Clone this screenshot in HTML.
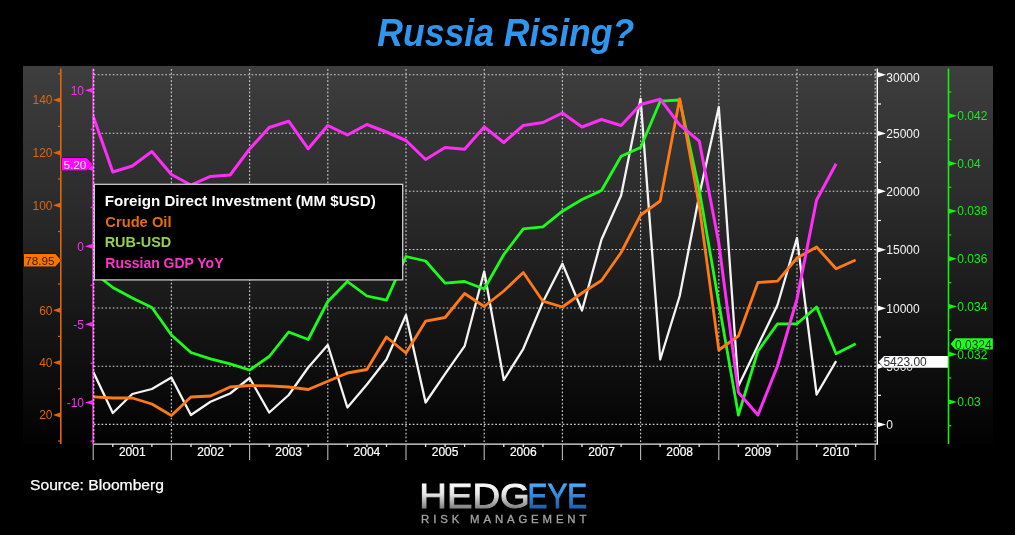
<!DOCTYPE html>
<html><head><meta charset="utf-8"><title>Russia Rising?</title>
<style>html,body{margin:0;padding:0;background:#000;}body{width:1015px;height:535px;overflow:hidden;}svg{display:block;}text{font-family:"Liberation Sans",sans-serif;}</style></head><body>
<svg width="1015" height="535" viewBox="0 0 1015 535">
<defs><linearGradient id="bg" x1="0" y1="0" x2="0" y2="1"><stop offset="0" stop-color="#3e3e3e"/><stop offset="0.35" stop-color="#2c2c2c"/><stop offset="0.7" stop-color="#141414"/><stop offset="1" stop-color="#020202"/></linearGradient>
<linearGradient id="lg1" gradientUnits="userSpaceOnUse" x1="0" y1="482" x2="0" y2="509"><stop offset="0" stop-color="#ffffff"/><stop offset="0.45" stop-color="#e6e6e6"/><stop offset="1" stop-color="#7c7c7c"/></linearGradient>
<linearGradient id="lg2" gradientUnits="userSpaceOnUse" x1="0" y1="482" x2="0" y2="509"><stop offset="0" stop-color="#4fb0ff"/><stop offset="1" stop-color="#1b5fae"/></linearGradient></defs>
<rect x="0" y="0" width="1015" height="535" fill="#000"/>
<text x="377.3" y="45.8" font-size="38.4" font-weight="bold" font-style="italic" fill="#2f96f0" textLength="257" lengthAdjust="spacingAndGlyphs">Russia Rising?</text>
<rect x="23" y="66" width="970" height="378" fill="url(#bg)"/>
<g stroke="#cdcdcd" stroke-width="1.15" stroke-dasharray="1.7 2.05" fill="none">
<line x1="94" y1="74.7" x2="876" y2="74.7"/>
<line x1="94" y1="133.2" x2="876" y2="133.2"/>
<line x1="94" y1="191.2" x2="876" y2="191.2"/>
<line x1="94" y1="249.5" x2="876" y2="249.5"/>
<line x1="94" y1="308.0" x2="876" y2="308.0"/>
<line x1="94" y1="366.2" x2="876" y2="366.2"/>
<line x1="94" y1="424.3" x2="876" y2="424.3"/>
<line x1="171.4" y1="69" x2="171.4" y2="444"/>
<line x1="249.6" y1="69" x2="249.6" y2="444"/>
<line x1="327.8" y1="69" x2="327.8" y2="444"/>
<line x1="406.0" y1="69" x2="406.0" y2="444"/>
<line x1="484.2" y1="69" x2="484.2" y2="444"/>
<line x1="562.4" y1="69" x2="562.4" y2="444"/>
<line x1="640.6" y1="69" x2="640.6" y2="444"/>
<line x1="718.8" y1="69" x2="718.8" y2="444"/>
<line x1="797.0" y1="69" x2="797.0" y2="444"/>
<line x1="875.2" y1="69" x2="875.2" y2="444"/>
</g>
<line x1="877.3" y1="68.5" x2="877.3" y2="444" stroke="#ffffff" stroke-width="1.4"/>
<g stroke="#e8e8e8" stroke-width="1.3" fill="none"><line x1="93" y1="444.1" x2="878" y2="444.1"/>
<line x1="93.2" y1="444" x2="93.2" y2="460" stroke="#b8b8b8" stroke-width="1.1"/>
<line x1="171.4" y1="444" x2="171.4" y2="460" stroke="#b8b8b8" stroke-width="1.1"/>
<line x1="249.6" y1="444" x2="249.6" y2="460" stroke="#b8b8b8" stroke-width="1.1"/>
<line x1="327.8" y1="444" x2="327.8" y2="460" stroke="#b8b8b8" stroke-width="1.1"/>
<line x1="406.0" y1="444" x2="406.0" y2="460" stroke="#b8b8b8" stroke-width="1.1"/>
<line x1="484.2" y1="444" x2="484.2" y2="460" stroke="#b8b8b8" stroke-width="1.1"/>
<line x1="562.4" y1="444" x2="562.4" y2="460" stroke="#b8b8b8" stroke-width="1.1"/>
<line x1="640.6" y1="444" x2="640.6" y2="460" stroke="#b8b8b8" stroke-width="1.1"/>
<line x1="718.8" y1="444" x2="718.8" y2="460" stroke="#b8b8b8" stroke-width="1.1"/>
<line x1="797.0" y1="444" x2="797.0" y2="460" stroke="#b8b8b8" stroke-width="1.1"/>
<line x1="875.2" y1="444" x2="875.2" y2="460" stroke="#b8b8b8" stroke-width="1.1"/>
<line x1="112.8" y1="444" x2="112.8" y2="447"/>
<line x1="132.3" y1="444" x2="132.3" y2="447"/>
<line x1="151.9" y1="444" x2="151.9" y2="447"/>
<line x1="191.0" y1="444" x2="191.0" y2="447"/>
<line x1="210.5" y1="444" x2="210.5" y2="447"/>
<line x1="230.1" y1="444" x2="230.1" y2="447"/>
<line x1="269.2" y1="444" x2="269.2" y2="447"/>
<line x1="288.7" y1="444" x2="288.7" y2="447"/>
<line x1="308.2" y1="444" x2="308.2" y2="447"/>
<line x1="347.4" y1="444" x2="347.4" y2="447"/>
<line x1="366.9" y1="444" x2="366.9" y2="447"/>
<line x1="386.5" y1="444" x2="386.5" y2="447"/>
<line x1="425.6" y1="444" x2="425.6" y2="447"/>
<line x1="445.1" y1="444" x2="445.1" y2="447"/>
<line x1="464.6" y1="444" x2="464.6" y2="447"/>
<line x1="503.8" y1="444" x2="503.8" y2="447"/>
<line x1="523.3" y1="444" x2="523.3" y2="447"/>
<line x1="542.9" y1="444" x2="542.9" y2="447"/>
<line x1="582.0" y1="444" x2="582.0" y2="447"/>
<line x1="601.5" y1="444" x2="601.5" y2="447"/>
<line x1="621.1" y1="444" x2="621.1" y2="447"/>
<line x1="660.1" y1="444" x2="660.1" y2="447"/>
<line x1="679.7" y1="444" x2="679.7" y2="447"/>
<line x1="699.2" y1="444" x2="699.2" y2="447"/>
<line x1="738.4" y1="444" x2="738.4" y2="447"/>
<line x1="757.9" y1="444" x2="757.9" y2="447"/>
<line x1="777.5" y1="444" x2="777.5" y2="447"/>
<line x1="816.6" y1="444" x2="816.6" y2="447"/>
<line x1="836.1" y1="444" x2="836.1" y2="447"/>
<line x1="855.7" y1="444" x2="855.7" y2="447"/>
</g>
<g font-size="12" fill="#ffffff" stroke="#ffffff" stroke-width="0.2" text-anchor="middle">
<text x="132.3" y="456.4">2001</text>
<text x="210.5" y="456.4">2002</text>
<text x="288.7" y="456.4">2003</text>
<text x="366.9" y="456.4">2004</text>
<text x="445.1" y="456.4">2005</text>
<text x="523.3" y="456.4">2006</text>
<text x="601.5" y="456.4">2007</text>
<text x="679.7" y="456.4">2008</text>
<text x="757.9" y="456.4">2009</text>
<text x="836.1" y="456.4">2010</text>
</g>
<g fill="none" stroke-linejoin="round" stroke-linecap="butt">
<polyline stroke="#f4f4f4" stroke-width="2.3" points="93.2,371.8 112.8,413.0 132.3,394.0 151.9,389.0 171.4,377.5 190.9,415.0 210.5,401.8 230.1,393.5 249.6,378.0 269.2,412.5 288.7,395.0 308.2,367.5 327.8,345.0 347.4,407.5 366.9,384.5 386.4,359.5 406.0,315.0 425.6,402.5 445.1,373.8 464.6,346.2 484.2,271.5 503.8,380.0 523.3,348.8 542.9,302.0 562.4,263.8 582.0,310.5 601.5,239.5 621.1,195.5 640.6,98.8 660.2,359.5 679.7,296.0 699.3,195.0 718.8,107.0 738.4,386.0 757.9,345.5 777.5,305.0 797.0,238.0 816.6,394.5 836.1,361.2"/>
<polyline stroke="#1cfc1c" stroke-width="2.8" points="93.2,272.0 112.8,287.5 132.3,298.0 151.9,307.5 171.4,335.0 190.9,352.5 210.5,358.8 230.1,363.8 249.6,370.0 269.2,356.5 288.7,332.0 308.2,339.5 327.8,301.5 347.4,281.5 366.9,296.0 386.4,300.2 406.0,256.5 425.6,261.0 445.1,283.2 464.6,281.5 484.2,289.0 503.8,254.5 523.3,228.8 542.9,226.8 562.4,211.2 582.0,199.5 601.5,190.5 621.1,156.2 640.6,147.5 660.2,101.2 679.7,100.0 699.3,190.0 718.8,303.0 738.4,415.0 757.9,351.2 777.5,323.8 797.0,323.8 816.6,307.0 836.1,353.8 855.7,343.8"/>
<polyline stroke="#ff7a14" stroke-width="2.8" points="93.2,396.8 112.8,398.0 132.3,398.0 151.9,404.0 171.4,415.5 190.9,397.0 210.5,396.0 230.1,387.0 249.6,385.5 269.2,385.8 288.7,387.0 308.2,389.5 327.8,381.2 347.4,373.0 366.9,369.5 386.4,337.0 406.0,353.0 425.6,321.2 445.1,317.5 464.6,293.5 484.2,306.5 503.8,291.0 523.3,272.5 542.9,301.2 562.4,307.0 582.0,293.0 601.5,280.5 621.1,252.5 640.6,215.0 660.2,201.0 679.7,98.8 699.3,206.0 718.8,350.0 738.4,336.0 757.9,282.5 777.5,281.2 797.0,258.0 816.6,247.0 836.1,268.8 855.7,260.0"/>
<polyline stroke="#ff2ef7" stroke-width="3" points="93.2,116.2 112.8,172.0 132.3,166.0 151.9,151.5 171.4,174.5 190.9,185.0 210.5,176.4 230.1,175.0 249.6,149.0 269.2,127.5 288.7,121.2 308.2,148.8 327.8,125.5 347.4,135.0 366.9,124.5 386.4,132.0 406.0,140.5 425.6,159.5 445.1,147.5 464.6,149.2 484.2,127.0 503.8,142.5 523.3,125.5 542.9,122.5 562.4,113.0 582.0,127.0 601.5,119.5 621.1,125.5 640.6,104.5 660.2,99.2 679.7,124.8 699.3,141.2 718.8,243.0 738.4,392.5 757.9,415.0 777.5,366.0 797.0,298.8 816.6,200.0 836.1,163.8"/>
</g>
<g stroke="#dc660d" fill="#dc660d">
<line x1="60.8" y1="68.5" x2="60.8" y2="444" stroke-width="1.6"/>
<path d="M60.8 97.3 L53 100.0 L60.8 102.7 Z" stroke="none"/>
<path d="M60.8 150.0 L53 152.7 L60.8 155.4 Z" stroke="none"/>
<path d="M60.8 202.5 L53 205.2 L60.8 207.9 Z" stroke="none"/>
<path d="M60.8 307.5 L53 310.2 L60.8 312.9 Z" stroke="none"/>
<path d="M60.8 359.9 L53 362.6 L60.8 365.3 Z" stroke="none"/>
<path d="M60.8 412.3 L53 415.0 L60.8 417.7 Z" stroke="none"/>
<line x1="58" y1="73.8" x2="60.8" y2="73.8" stroke-width="1.2"/>
<line x1="58" y1="126.4" x2="60.8" y2="126.4" stroke-width="1.2"/>
<line x1="58" y1="179.0" x2="60.8" y2="179.0" stroke-width="1.2"/>
<line x1="58" y1="231.5" x2="60.8" y2="231.5" stroke-width="1.2"/>
<line x1="58" y1="284.0" x2="60.8" y2="284.0" stroke-width="1.2"/>
<line x1="58" y1="336.4" x2="60.8" y2="336.4" stroke-width="1.2"/>
<line x1="58" y1="388.8" x2="60.8" y2="388.8" stroke-width="1.2"/>
<line x1="58" y1="441.0" x2="60.8" y2="441.0" stroke-width="1.2"/>
</g>
<g font-size="12" fill="#dc660d" text-anchor="end">
<text x="52.5" y="104.3">140</text>
<text x="52.5" y="157.0">120</text>
<text x="52.5" y="209.5">100</text>
<text x="52.5" y="314.5">60</text>
<text x="52.5" y="366.9">40</text>
<text x="52.5" y="419.3">20</text>
</g>
<path d="M24 254 L55.5 254 L61 260.2 L55.5 266.5 L24 266.5 Z" fill="#f87500" stroke="#0c0c0c" stroke-width="0.8" paint-order="stroke"/>
<text x="25.3" y="264.8" font-size="11.7" fill="#3a1a00">78.95</text>
<line x1="93.0" y1="68.5" x2="93.0" y2="444" stroke="#ff2cf5" stroke-width="1.5"/>
<line x1="93.8" y1="69" x2="93.8" y2="444" stroke="#f4f4f4" stroke-width="1" stroke-dasharray="2 1.75"/>
<g fill="#ff2cf5">
<path d="M93.2 87.6 L85 90.3 L93.2 93.0 Z"/>
<path d="M93.2 243.5 L85 246.2 L93.2 248.9 Z"/>
<path d="M93.2 321.6 L85 324.3 L93.2 327.0 Z"/>
<path d="M93.2 399.7 L85 402.4 L93.2 405.1 Z"/>
</g>
<g stroke="#ff2cf5" stroke-width="1.2">
<line x1="90.5" y1="129.3" x2="93.2" y2="129.3"/>
<line x1="90.5" y1="207.3" x2="93.2" y2="207.3"/>
<line x1="90.5" y1="285.3" x2="93.2" y2="285.3"/>
<line x1="90.5" y1="363.3" x2="93.2" y2="363.3"/>
<line x1="90.5" y1="441.0" x2="93.2" y2="441.0"/>
</g>
<g font-size="12" fill="#ff2cf5" text-anchor="end">
<text x="84" y="94.6">10</text>
<text x="84" y="250.5">0</text>
<text x="84" y="328.6">-5</text>
<text x="84" y="406.7">-10</text>
</g>
<path d="M93 165.6 L85 168.3 L93 171 Z" fill="#ff2cf5"/>
<path d="M61.8 158 L86.6 158 L92.7 164.2 L86.6 170.4 L61.8 170.4 Z" fill="#ff08ff" stroke="#0c0c0c" stroke-width="0.8" paint-order="stroke"/>
<text x="63.4" y="169.3" font-size="11.8" fill="#ffe8ff">5.20</text>
<g fill="#ffffff">
<path d="M877.5 72.0 L886 74.7 L877.5 77.4 Z"/>
<path d="M877.5 130.7 L886 133.4 L877.5 136.1 Z"/>
<path d="M877.5 188.5 L886 191.2 L877.5 193.9 Z"/>
<path d="M877.5 247.1 L886 249.8 L877.5 252.5 Z"/>
<path d="M877.5 305.5 L886 308.2 L877.5 310.9 Z"/>
<path d="M877.5 363.6 L886 366.3 L877.5 369.0 Z"/>
<path d="M877.5 421.9 L886 424.6 L877.5 427.3 Z"/>
</g>
<g stroke="#ffffff" stroke-width="1.2">
<line x1="878" y1="104.0" x2="881" y2="104.0"/>
<line x1="878" y1="162.3" x2="881" y2="162.3"/>
<line x1="878" y1="220.5" x2="881" y2="220.5"/>
<line x1="878" y1="278.7" x2="881" y2="278.7"/>
<line x1="878" y1="337.0" x2="881" y2="337.0"/>
<line x1="878" y1="395.3" x2="881" y2="395.3"/>
</g>
<g font-size="12" fill="#f4f4f4">
<text x="886.3" y="81.9">30000</text>
<text x="886.3" y="137.7">25000</text>
<text x="886.3" y="195.5">20000</text>
<text x="886.3" y="254.1">15000</text>
<text x="886.3" y="312.5">10000</text>
<text x="886.3" y="370.6">5000</text>
<text x="886.3" y="428.9">0</text>
</g>
<path d="M878.6 361.8 L884 355.9 L948 355.9 L948 367.7 L884 367.7 Z" fill="#ffffff" stroke="#0c0c0c" stroke-width="0.8" paint-order="stroke"/>
<text x="883.4" y="366.4" font-size="12" fill="#30303a">5423.00</text>
<line x1="948.5" y1="68.5" x2="948.5" y2="444" stroke="#16ee16" stroke-width="1.6"/>
<g fill="#16ee16">
<path d="M948.3 113.1 L957 115.8 L948.3 118.5 Z"/>
<path d="M948.3 160.7 L957 163.4 L948.3 166.1 Z"/>
<path d="M948.3 208.4 L957 211.1 L948.3 213.8 Z"/>
<path d="M948.3 256.1 L957 258.8 L948.3 261.5 Z"/>
<path d="M948.3 303.8 L957 306.5 L948.3 309.2 Z"/>
<path d="M948.3 351.5 L957 354.2 L948.3 356.9 Z"/>
<path d="M948.3 399.2 L957 401.9 L948.3 404.6 Z"/>
</g>
<g stroke="#16ee16" stroke-width="1.2">
<line x1="948.3" y1="92.0" x2="951.3" y2="92.0"/>
<line x1="948.3" y1="139.6" x2="951.3" y2="139.6"/>
<line x1="948.3" y1="187.3" x2="951.3" y2="187.3"/>
<line x1="948.3" y1="235.0" x2="951.3" y2="235.0"/>
<line x1="948.3" y1="282.7" x2="951.3" y2="282.7"/>
<line x1="948.3" y1="330.4" x2="951.3" y2="330.4"/>
<line x1="948.3" y1="378.0" x2="951.3" y2="378.0"/>
<line x1="948.3" y1="425.7" x2="951.3" y2="425.7"/>
</g>
<g font-size="12" fill="#16ee16">
<text x="957.3" y="120.1">0.042</text>
<text x="957.3" y="167.7">0.04</text>
<text x="957.3" y="215.4">0.038</text>
<text x="957.3" y="263.1">0.036</text>
<text x="957.3" y="310.8">0.034</text>
<text x="957.3" y="358.5">0.032</text>
<text x="957.3" y="406.2">0.03</text>
</g>
<path d="M950.6 343.9 L955.4 338.2 L992.8 338.2 L992.8 349.6 L955.4 349.6 Z" fill="#1eff1e" stroke="#0c0c0c" stroke-width="0.8" paint-order="stroke"/>
<text x="955" y="348.5" font-size="12" fill="#0c3a0c">0.0324</text>
<rect x="94.3" y="184.3" width="308.4" height="95.6" fill="#000" stroke="#d8d8d8" stroke-width="1.2"/>
<g font-size="14.4" font-weight="bold">
<text x="104.7" y="205.9" fill="#ffffff" textLength="271" lengthAdjust="spacingAndGlyphs">Foreign Direct Investment (MM $USD)</text>
<text x="105.3" y="226.6" fill="#e46c0a" textLength="66.2" lengthAdjust="spacingAndGlyphs">Crude Oil</text>
<text x="104.7" y="246.9" fill="#92d050" textLength="66.5" lengthAdjust="spacingAndGlyphs">RUB-USD</text>
<text x="105.3" y="267.6" fill="#ff33cc" textLength="118.2" lengthAdjust="spacingAndGlyphs">Russian GDP YoY</text>
</g>
<text x="30" y="490" font-size="14.8" fill="#ffffff" stroke="#ffffff" stroke-width="0.25" textLength="134" lengthAdjust="spacingAndGlyphs">Source: Bloomberg</text>
<text x="419.3" y="508.3" font-size="35.6" fill="url(#lg1)" stroke="url(#lg1)" stroke-width="0.9" textLength="110.5" lengthAdjust="spacingAndGlyphs">HEDG</text>
<text x="527.6" y="508.3" font-size="35.6" fill="url(#lg2)" stroke="url(#lg2)" stroke-width="0.9" textLength="59.6" lengthAdjust="spacingAndGlyphs">EYE</text>
<text x="421.1" y="522.5" font-size="11.4" fill="#a0a0a0" stroke="#a0a0a0" stroke-width="0.35" textLength="165.3" lengthAdjust="spacing">RISK MANAGEMENT</text>
</svg></body></html>
